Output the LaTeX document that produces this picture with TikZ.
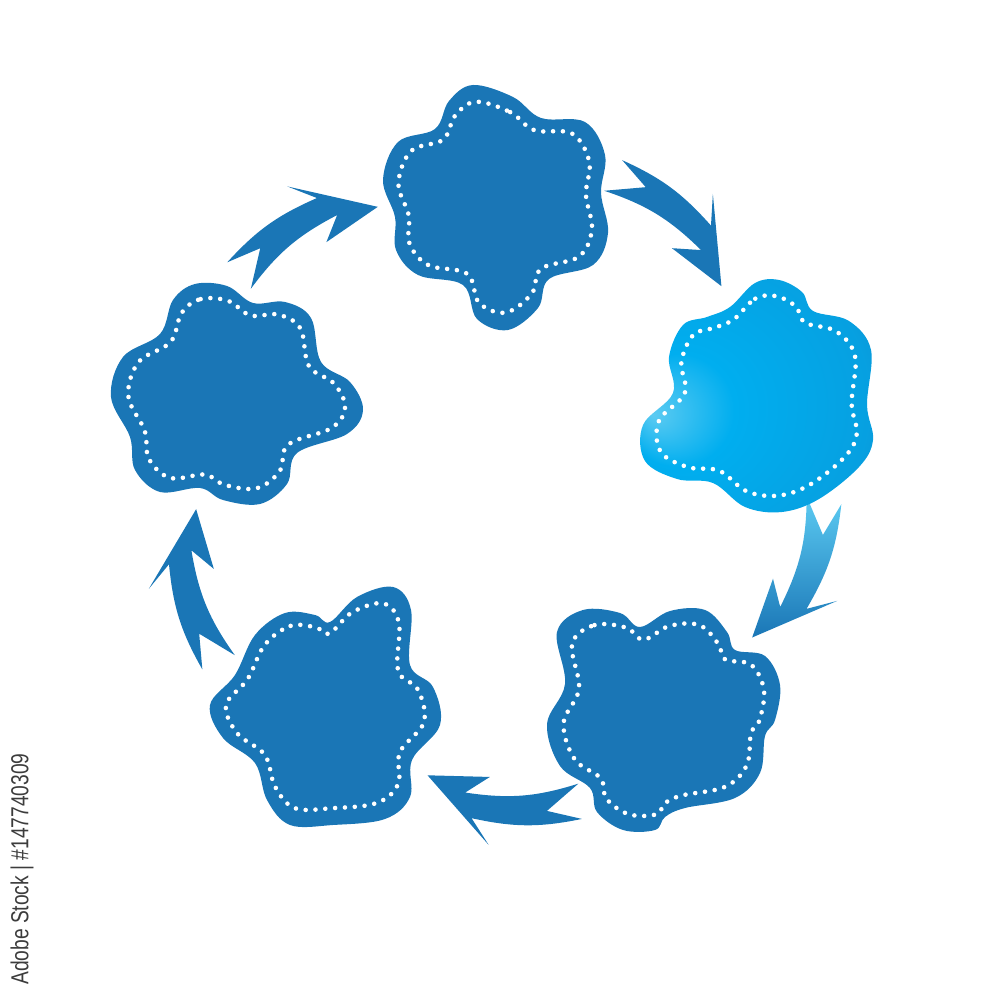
\documentclass[tikz,border=0pt]{standalone}
\usepackage{fontspec}
\setsansfont{Liberation Sans}

\definecolor{blobblue}{HTML}{1A76B6}
\definecolor{glowlight}{HTML}{5CCBF2}
\definecolor{glowcyan}{HTML}{00AEEF}
\definecolor{stampgray}{HTML}{3C3C3C}

\pgfdeclareradialshading{blobglow}{\pgfpoint{-22bp}{-4bp}}{%
  color(0bp)=(glowlight); color(12bp)=(glowcyan);
  color(32bp)=(glowcyan!75!blobblue); color(50bp)=(blobblue)}

\tikzset{
  blobfill/.style={fill=blobblue},
  stitch/.style={draw=white, line width=1.3pt, line cap=round, dash pattern=on 0pt off 2.8pt},
  blobline/.style={smooth cycle, tension=0.6},
}

% one blob: filled outline plus a dotted seam inside it
\newcommand{\blob}[3][blobfill]{%
  \begin{scope}[shift={(#2)}]
    \path[#1] plot[blobline] coordinates {#3};
    \path[stitch, scale=0.86] plot[blobline] coordinates {#3};
  \end{scope}}

% one curved arrow of the cycle, turned by #2 degrees
\newcommand{\cyclearrow}[2][fill=blobblue]{%
  \path[#1] (#2+113:300) -- (#2+125:362) -- (#2+122:336)
    to[bend right=12] (#2+140.5:347) -- (#2+135:332) -- (#2+141.5:312)
    to[bend left=13] (#2+120.5:311) -- (#2+125:294) -- cycle;}

\begin{document}
\begin{tikzpicture}[x=0.01cm, y=0.01cm]
	\useasboundingbox (0,0) rectangle (1000,1000);

	\coordinate (hub) at (495,517);
	\coordinate (blobtop) at (493,795);
	\coordinate (blobright) at (757,605);
	\coordinate (blobbotright) at (665,282);
	\coordinate (blobbotleft) at (325,295);
	\coordinate (blobleft) at (235,608);

	% arrows
	\begin{scope}[shift={(hub)}]
		\foreach \o in {0,-72,-216,-288}{
			\cyclearrow{\o}
		}
		\cyclearrow[top color=glowlight, middle color=glowcyan, bottom color=blobblue]{-144}
	\end{scope}

	% blobs
	\blob{blobtop}{(-20,120) (20,108) (48,87) (92,83) (112,50) (108,12) (115,-28) (100,-60) (56,-74) (45,-103) (15,-125) (-16,-114) (-30,-80) (-75,-70) (-97,-45) (-98,-12) (-110,25) (-95,63) (-58,76) (-44,104)}
	\blob[shade, shading=blobglow]{blobright}{(-27,88) (-2,112) (22,115) (45,103) (56,84) (92,74) (114,45) (110,-10) (116,-45) (102,-72) (62,-104) (25,-117) (-12,-112) (-44,-88) (-80,-84) (-112,-66) (-114,-30) (-84,2) (-88,38) (-74,70) (-50,78)}
	\blob{blobleft}{(-62,92) (-40,108) (-8,106) (18,89) (50,90) (76,74) (86,30) (115,10) (128,-18) (112,-42) (62,-61) (52,-92) (25,-112) (-12,-108) (-35,-96) (-75,-100) (-100,-78) (-105,-45) (-124,-5) (-112,35) (-75,58)}
	\blob{blobbotleft}{(-70,70) (-40,92) (-10,90) (5,83) (32,108) (68,118) (86,95) (85,40) (108,18) (115,-20) (87,-55) (85,-92) (60,-114) (8,-120) (-35,-120) (-58,-95) (-70,-58) (-102,-33) (-115,0) (-90,30)}
	\blob{blobbotright}{(-108,86) (-82,108) (-45,105) (-25,91) (5,107) (40,108) (62,86) (70,68) (100,62) (115,33) (110,-2) (100,-18) (95,-55) (70,-80) (20,-90) (0,-99) (-10,-112) (-42,-112) (-68,-94) (-75,-70) (-105,-48) (-118,-6) (-100,34)}

	\node[rotate=90, text=stampgray, font=\sffamily, inner sep=0pt] (stockid) at (22,131)
		{\scalebox{0.78}[1]{\fontsize{7}{8}\selectfont Adobe Stock | \#147740309}};
\end{tikzpicture}
\end{document}
